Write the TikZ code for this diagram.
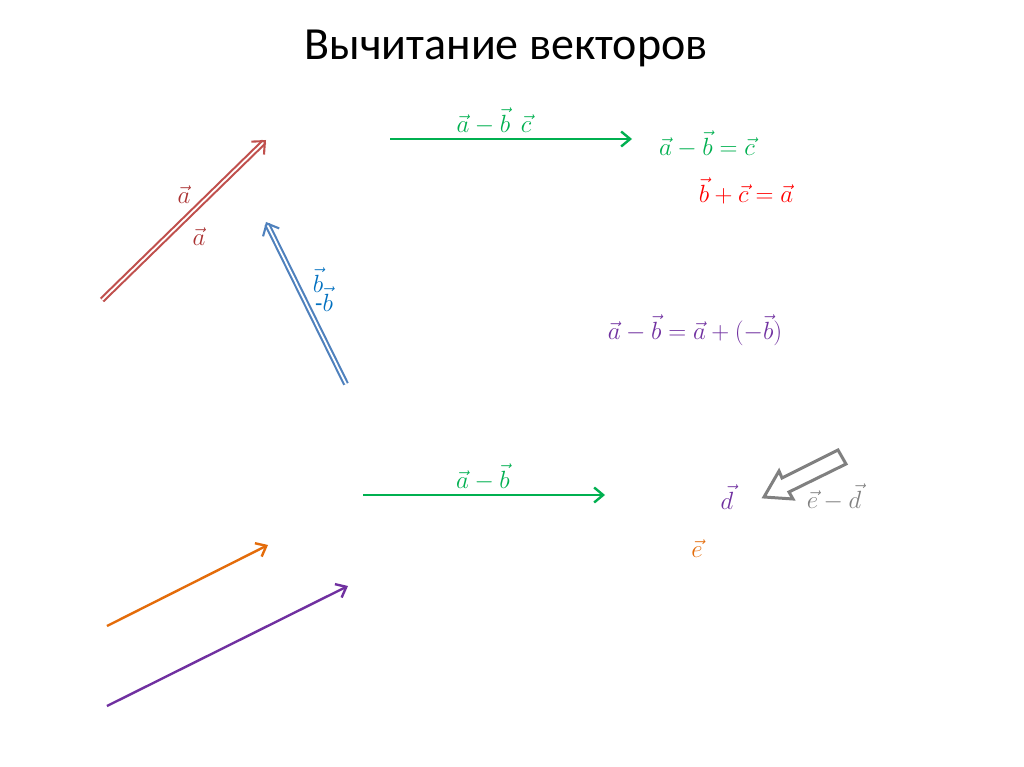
\documentclass[tikz,border=0pt]{standalone}
\usepackage{fontspec}
\setmainfont{Carlito}
\usetikzlibrary{arrows.meta}
\definecolor{cRedA}{RGB}{192,80,77}
\definecolor{cRedT}{RGB}{170,50,50}
\definecolor{cBlueA}{RGB}{79,129,189}
\definecolor{cBlueT}{RGB}{0,112,192}
\definecolor{cGreen}{RGB}{0,176,80}
\definecolor{cRed}{RGB}{255,0,0}
\definecolor{cPurple}{RGB}{112,48,160}
\definecolor{cOrange}{RGB}{228,108,10}
\definecolor{cGray}{RGB}{128,128,128}
\tikzset{
  lbl/.style={inner sep=0pt, font=\fontsize{24}{28}\selectfont},
  dblarrow/.style={double, line width=2.1pt, double distance=1.8pt, -{Straight Barb[length=10pt,width=18pt]}},
  thinarrow/.style={line width=2.4pt, -{Straight Barb[length=9pt,width=15pt]}},
}
\begin{document}
\begin{tikzpicture}[x=1pt,y=-1pt]
\useasboundingbox[fill=white] (0,0) rectangle (1024,767);
\node[font=\fontsize{46}{52}\selectfont] (title) at (506,48) {Вычитание векторов};

% coordinates
\coordinate (a0) at (102,300);
\coordinate (a1) at (266,140);
\coordinate (b0) at (346,384);
\coordinate (b1) at (266,222);
\coordinate (c0) at (390,139);
\coordinate (c1) at (632,139);
\coordinate (g0) at (363,495);
\coordinate (g1) at (605,495);
\coordinate (e0) at (107,626);
\coordinate (e1) at (268,545);
\coordinate (d0) at (107,706);
\coordinate (d1) at (348,586);

\draw[dblarrow, cRedA] (a0) -- (a1);
\draw[dblarrow, cBlueA] (b0) -- (b1);
\draw[thinarrow, cGreen] (c0) -- (c1);
\draw[thinarrow, cGreen] (g0) -- (g1);
\draw[thinarrow, cOrange] (e0) -- (e1);
\draw[thinarrow, cPurple] (d0) -- (d1);

% labels
\node[lbl, text=cRedT] (la1) at (184,195) {$\vec a$};
\node[lbl, text=cRedT] (la2) at (199,237) {$\vec a$};
\node[lbl, text=cBlueT] (lb1) at (318,280) {$\vec b$};
\node[lbl, text=cBlueT] (lb2) at (324,299) {-$\vec b$};
\node[lbl, text=cGreen] (lc) at (494,121) {$\vec a-\vec b\ \ \vec c$};
\node[lbl, text=cGreen] (eq1) at (707,144) {$\vec a-\vec b=\vec c$};
\node[lbl, text=cRed] (eq2) at (746,191) {$\vec b+\vec c=\vec a$};
\node[lbl, text=cPurple] (eq3) at (695,330) {$\vec a-\vec b=\vec a+(-\vec b)$};
\node[lbl, text=cGreen] (lg) at (483,477) {$\vec a-\vec b$};
\node[lbl, text=cPurple] (ld) at (727,497) {$\vec d$};
\node[lbl, text=cOrange] (le) at (697,549) {$\vec e$};
\node[lbl, text=cGray] (led) at (834,497) {$\vec e-\vec d$};

% block arrow
\draw[cGray, line width=3pt, line join=miter] (764,497) -- (793,499) -- (789,492) -- (846,464) -- (838,450) -- (782,478) -- (779,471) -- cycle;
\end{tikzpicture}
\end{document}
